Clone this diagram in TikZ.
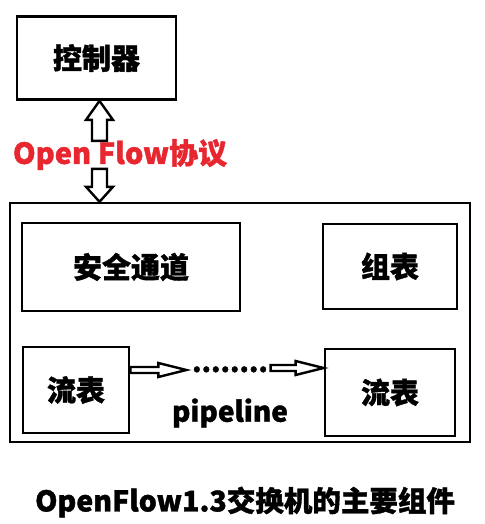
\documentclass[tikz,border=0pt]{standalone}
\usepackage{fontspec}
\newfontfamily\cjk{Noto Sans CJK SC}[BoldFeatures={FakeBold=1.3}]
\usetikzlibrary{calc}
\definecolor{protored}{RGB}{232,38,48}

\begin{document}
\begin{tikzpicture}[x=1pt,y=-1pt]
        \tikzstyle{every node}=[font=\cjk\bfseries\fontsize{29}{32}\selectfont]
        \tikzstyle{box}=[draw, line width=2.8pt, inner sep=0pt]
        \tikzstyle{hollow}=[draw, line width=2.4pt, fill=white, line join=miter]
        \useasboundingbox (0,0) rectangle (484,524);
        %-----controller
        \node[box, minimum width=159, minimum height=83] (ctrl) at (96.5,58) {控制器};
        \node[text=protored] (proto) at (120,154.5) {Open Flow协议};
        %-----switch
        \node[draw, line width=2.4pt, minimum width=460, minimum height=239] (switch) at (240,322.5) {};
        \node[box, minimum width=218, minimum height=88] (chan) at (131,267) {安全通道};
        \node[box, minimum width=134, minimum height=85] (group) at (390,266.5) {组表};
        \node[box, minimum width=106, minimum height=86] (flowA) at (76,390) {流表};
        \node[box, minimum width=130, minimum height=87] (flowB) at (390,392.5) {流表};
        \node[anchor=base, font=\cjk\bfseries\fontsize{27}{30}\selectfont] (dots) at (230,372) {........};
        \node[font=\cjk\bfseries\fontsize{28}{32}\selectfont] (pipe) at (230,413) {pipeline};
        \node[font=\cjk\bfseries\fontsize{28.5}{32}\selectfont] (title) at (245,502) {OpenFlow1.3交换机的主要组件};

        \coordinate (link) at ($(ctrl.south)+(3,0)$);
        \coordinate (downtip) at (link |- switch.north);
        \path (flowA.east) ++(0,-20) coordinate (pipeA);
        \path (flowB.west) ++(0,-24.5) coordinate (pipeB);

        % hollow arrows
        \draw[hollow] (link) -- ++(13.5,19) -- ++(-6,0) -- ++(0,21) -- ++(-15,0) -- ++(0,-21) -- ++(-6,0) -- cycle;
        \draw[hollow] (downtip) -- ++(-13.5,-15) -- ++(6,0) -- ++(0,-18) -- ++(15,0) -- ++(0,18) -- ++(6,0) -- cycle;
        \draw[hollow] (pipeA) -- ++(0,-3) -- ++(28,0) -- ++(0,-4) -- ++(28,7) -- ++(-28,7) -- ++(0,-4) -- ++(-28,0) -- cycle;
        \draw[hollow] (pipeB) -- ++(-28,-7) -- ++(0,4) -- ++(-25,0) -- ++(0,6) -- ++(25,0) -- ++(0,4) -- cycle;
\end{tikzpicture}
\end{document}
